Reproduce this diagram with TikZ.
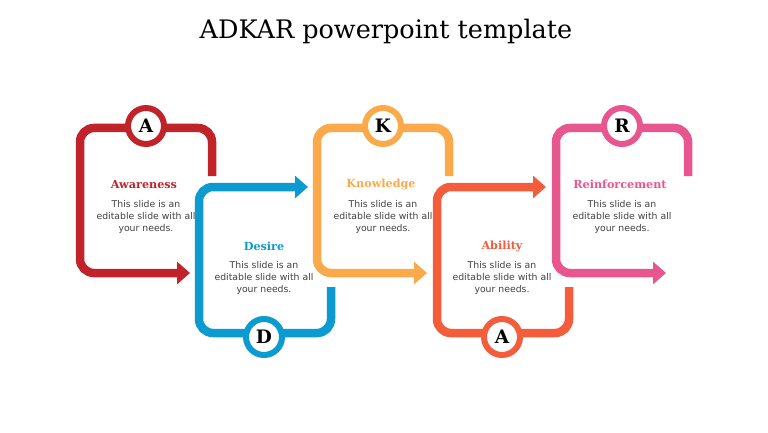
\documentclass[tikz,border=0pt]{standalone}
\usepackage{fontspec}
\setmainfont{DejaVu Serif}
\newfontfamily\bodyfont{DejaVu Sans}
\usetikzlibrary{arrows.meta}
\definecolor{cA}{HTML}{C0242A}
\definecolor{cD}{HTML}{0B9BD0}
\definecolor{cK}{HTML}{FBAA4B}
\definecolor{cB}{HTML}{F45D3C}
\definecolor{cR}{HTML}{E8568F}
\begin{document}
\begin{tikzpicture}[x=1pt,y=1pt,
  loop/.style={line width=8.5pt,rounded corners=14pt,-{Triangle[length=13pt,width=22pt]}},
  badge/.style={circle,draw=#1,fill=white,line width=6pt,minimum size=36pt,inner sep=0pt,font=\bfseries\fontsize{18.5}{18.5}\selectfont},
  head/.style={text=#1,font=\bfseries\fontsize{11.2}{13}\selectfont},
  body/.style={align=center,text=black!75,font=\bodyfont\fontsize{9.3}{12}\selectfont}]
\useasboundingbox (0,0) rectangle (768,-433);
\node (title) at (386,-31) {\fontsize{25.5}{30}\selectfont ADKAR powerpoint template};
% upper loops
\foreach \dx/\c/\L/\H/\n in {0/cA/A/Awareness/a,237/cK/K/Knowledge/k,476/cR/R/Reinforcement/r}{
  \draw[loop,draw=\c,color=\c] (212+\dx,-176) -- (212+\dx,-128) -- (80+\dx,-128) -- (80+\dx,-273) -- (190+\dx,-273);
  \node[badge=\c] (b\n) at (146+\dx,-126) {\L};
  \node[head=\c] (h\n) at (144+\dx,-184) {\H};
  \node[body] (t\n) at (146+\dx,-217) {This slide is an\\editable slide with all\\your needs.};
}
% lower loops
\foreach \dx/\c/\L/\H/\n in {0/cD/D/Desire/d,238/cB/A/Ability/b}{
  \draw[loop,draw=\c,color=\c] (331+\dx,-287) -- (331+\dx,-333) -- (199+\dx,-333) -- (199+\dx,-187) -- (308+\dx,-187);
  \node[badge=\c] (b\n) at (264+\dx,-337) {\L};
  \node[head=\c] (h\n) at (264+\dx,-246) {\H};
  \node[body] (t\n) at (264+\dx,-278) {This slide is an\\editable slide with all\\your needs.};
}
\end{tikzpicture}
\end{document}
